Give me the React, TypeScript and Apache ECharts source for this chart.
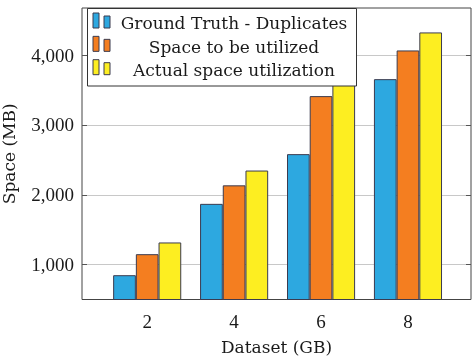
import React, { useEffect, useRef } from "react";
import * as echarts from "echarts";

const categories = [2, 4, 6, 8];
const seriesNames = ["Ground Truth - Duplicates", "Space to be utilized", "Actual space utilization"];
const groundTruth = [848, 1870, 2582, 3656];
const spaceToUse = [1149, 2135, 3413, 4067];
const actualSpace = [1317, 2347, 3650, 4325];
const yTicks = [1000, 2000, 3000, 4000];
const colors = ["#2DA8E0", "#F47E20", "#FDEE21"];
const edge = "#3b3b4f";

const digitFont = "Liberation Serif";
const textFont = "DejaVu Serif";

export default function App() {
  const ref = useRef<HTMLDivElement>(null);
  useEffect(() => {
    if (!ref.current) return;
    const chart = echarts.init(ref.current, undefined, { renderer: "svg" });
    const values = [groundTruth, spaceToUse, actualSpace];
    const legendGraphics: any[] = [
      {
        type: "rect",
        shape: { x: 87.5, y: 8.5, width: 269, height: 77.5 },
        style: { fill: "#fff", stroke: "#333", lineWidth: 1 },
        z: 10,
      },
    ];
    seriesNames.forEach((name, i) => {
      const bottom = 28 + i * 23.35;
      const cy = 23.3 + i * 23.35;
      legendGraphics.push(
        {
          type: "rect",
          shape: { x: 93, y: bottom - 15, width: 6, height: 15 },
          style: { fill: colors[i], stroke: edge, lineWidth: 1 },
          z: 11,
        },
        {
          type: "rect",
          shape: { x: 104, y: bottom - 12, width: 6, height: 12 },
          style: { fill: colors[i], stroke: edge, lineWidth: 1 },
          z: 11,
        },
        {
          type: "text",
          x: 234,
          y: cy,
          style: {
            text: name,
            font: `17px '${textFont}'`,
            fill: "#1a1a1a",
            align: "center",
            verticalAlign: "middle",
          },
          z: 11,
        }
      );
    });
    chart.setOption({
      animation: false,
      grid: {
        left: 82,
        top: 8,
        right: 3,
        bottom: 58.5,
        outerBoundsMode: "none",
        containLabel: false,
        show: true,
        borderColor: "#444",
        borderWidth: 1,
        backgroundColor: "transparent",
      },
      xAxis: {
        type: "value",
        min: 0.5,
        max: 9.45,
        name: "Dataset (GB)",
        nameLocation: "middle",
        nameGap: 39,
        nameTextStyle: { fontFamily: textFont, fontSize: 17, color: "#1a1a1a" },
        axisLine: { show: false },
        axisTick: { show: false },
        splitLine: { show: false },
        axisLabel: {
          customValues: categories,
          fontFamily: digitFont,
          fontSize: 19,
          color: "#1a1a1a",
          margin: 12,
        },
      },
      yAxis: [
        {
          type: "value",
          min: 500,
          max: 4675,
          name: "Space (MB)",
          nameLocation: "middle",
          nameGap: 65,
          nameTextStyle: { fontFamily: textFont, fontSize: 17, color: "#1a1a1a" },
          axisLine: { show: false },
          axisTick: { show: true, inside: true, length: 5, customValues: yTicks, lineStyle: { color: "#555" } },
          splitLine: { show: true, lineStyle: { color: "#c8c8c8", width: 1 } },
          axisLabel: {
            customValues: yTicks,
            fontFamily: digitFont,
            fontSize: 19,
            color: "#1a1a1a",
            margin: 8,
            formatter: (v: number) => v.toLocaleString("en-US"),
          },
        },
        {
          type: "value",
          position: "right",
          min: 500,
          max: 4675,
          axisLine: { show: false },
          axisTick: { show: true, inside: true, length: 5, customValues: yTicks, lineStyle: { color: "#555" } },
          splitLine: { show: false },
          axisLabel: { show: false },
        },
      ],
      series: seriesNames.map((name, i) => ({
        type: "bar",
        name,
        data: categories.map((c, j) => [c, values[i][j]]),
        barWidth: 22.7,
        barGap: "0%",
        itemStyle: { color: colors[i], borderColor: edge, borderWidth: 1 },
      })),
      graphic: legendGraphics,
    });
    return () => chart.dispose();
  }, []);
  return <div ref={ref} style={{ position: "fixed", left: 0, top: 0, width: 474, height: 358 }} />;
}
